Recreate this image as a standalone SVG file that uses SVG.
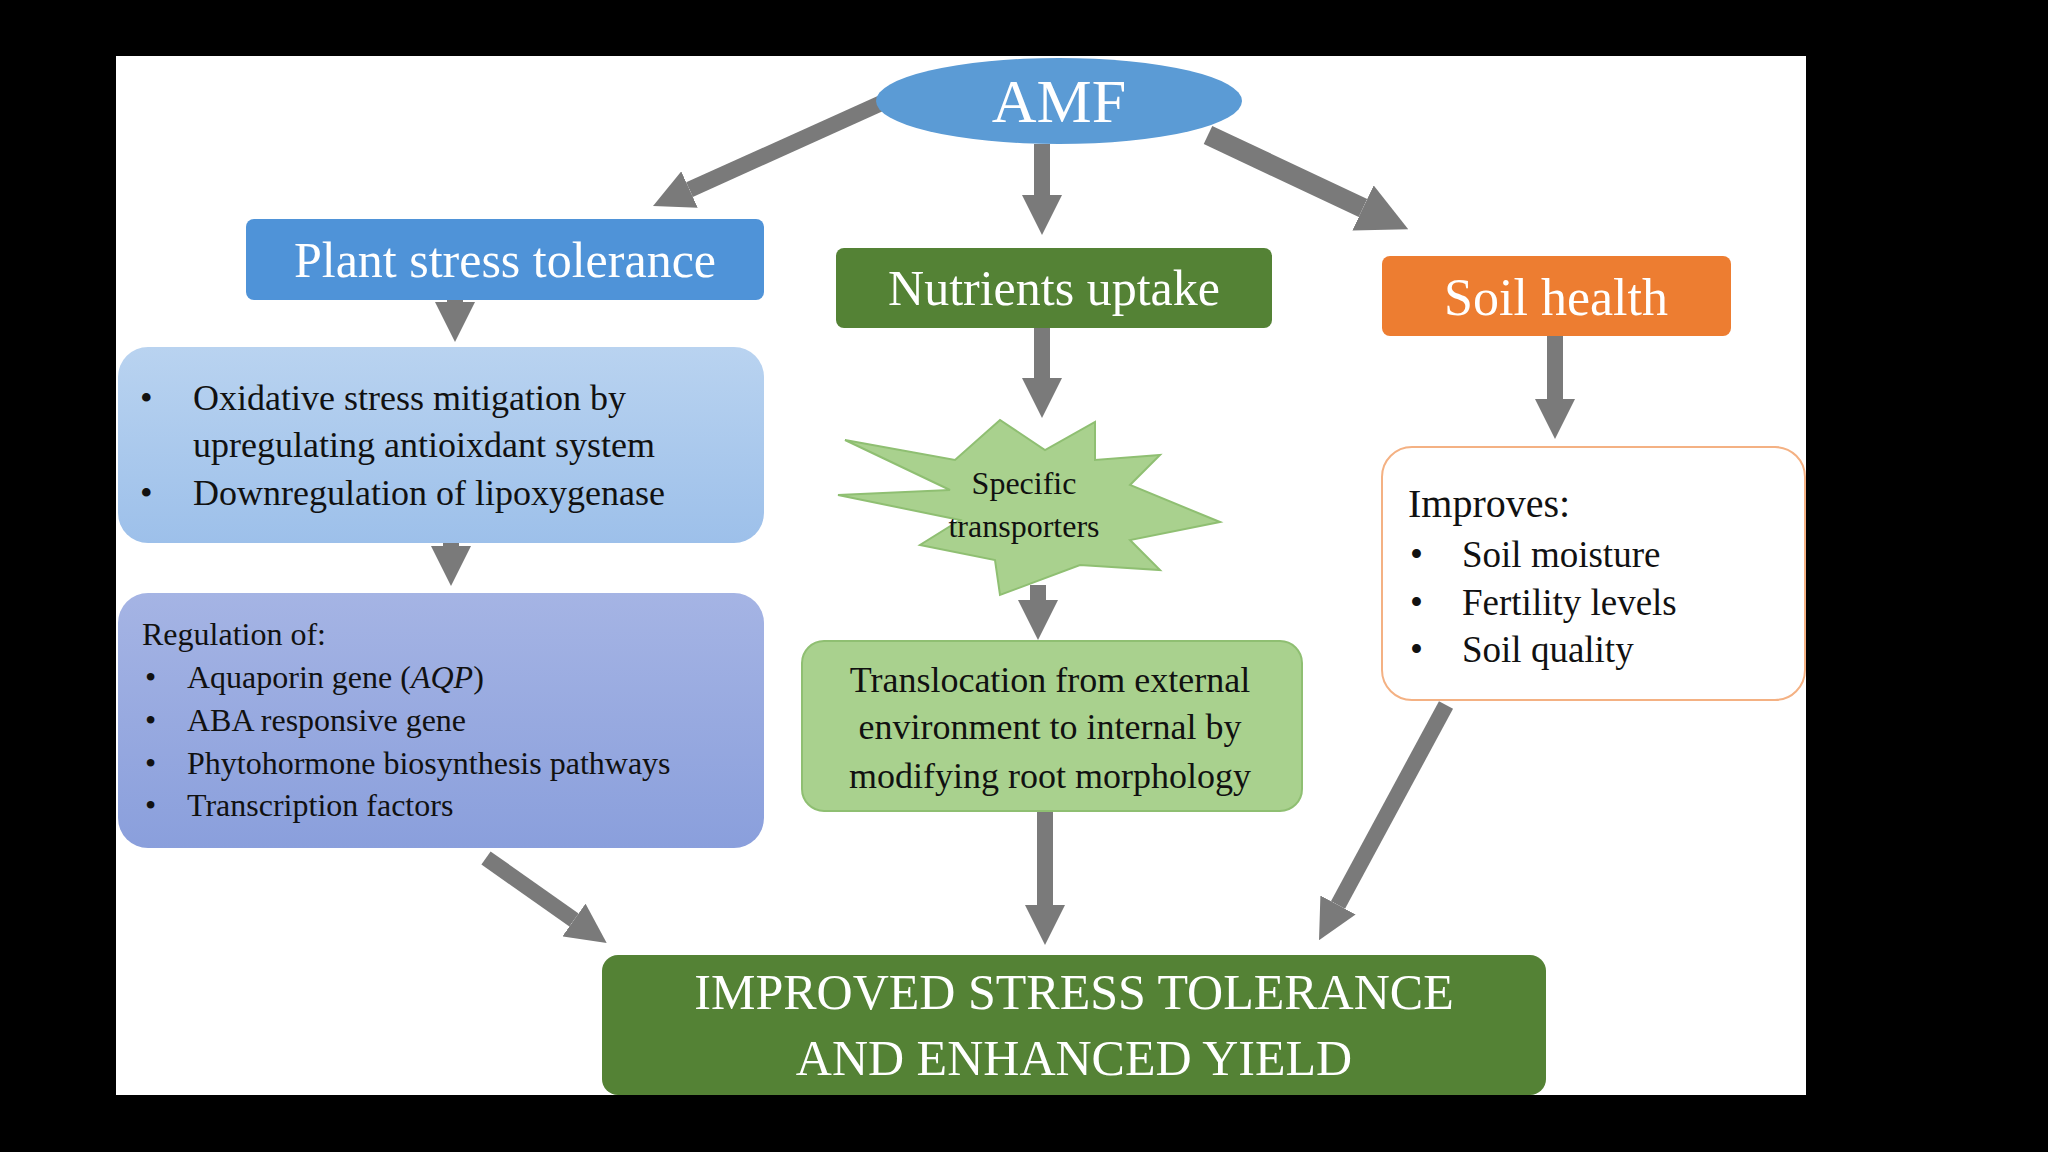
<svg xmlns="http://www.w3.org/2000/svg" width="2048" height="1152" viewBox="0 0 2048 1152">
<defs>
<marker id="ah" markerWidth="2.5" markerHeight="2.5" refX="0" refY="1.25" orient="auto" markerUnits="strokeWidth"><path d="M0,0 L2.5,1.25 L0,2.5 z" fill="#7a7a7a"/></marker>
<linearGradient id="gb" x1="0" y1="0" x2="0" y2="1"><stop offset="0" stop-color="#b9d3f0"/><stop offset="1" stop-color="#9dc0ea"/></linearGradient>
<linearGradient id="gp" x1="0" y1="0" x2="0" y2="1"><stop offset="0" stop-color="#a5b4e4"/><stop offset="1" stop-color="#8a9fdc"/></linearGradient>
</defs>
<style>
text{font-family:"Liberation Serif",serif;}
.w{fill:#fff;text-anchor:middle}
.k{fill:#111}
.ar line{stroke:#7a7a7a;stroke-width:16;marker-end:url(#ah)}
</style>
<rect width="2048" height="1152" fill="#000"/>
<rect x="116" y="56" width="1690" height="1039" fill="#fff"/>
<g class="ar" id="connectors">
<line x1="886" y1="101" x2="689.5" y2="189.6"/>
<line x1="1042" y1="144" x2="1042" y2="195"/>
<line x1="1208" y1="135" x2="1363" y2="208" style="stroke-width:20"/>
<line x1="455" y1="296" x2="455" y2="302"/>
<line x1="451" y1="540" x2="451" y2="546"/>
<line x1="1042" y1="328" x2="1042" y2="378"/>
<line x1="1038" y1="585" x2="1038" y2="600"/>
<line x1="1555" y1="336" x2="1555" y2="399"/>
<line x1="486" y1="858" x2="574" y2="920"/>
<line x1="1045" y1="811" x2="1045" y2="905"/>
<line x1="1446" y1="705" x2="1338" y2="905"/>
</g>
<g id="amf"><ellipse cx="1059" cy="101" rx="183" ry="43" fill="#5b9bd5"/><text class="w" x="1059" y="122" font-size="62">AMF</text></g>
<g id="plant"><rect x="246" y="219" width="518" height="81" rx="8" fill="#4f93d8"/><text class="w" x="505" y="277" font-size="50">Plant stress tolerance</text></g>
<g id="nutrients"><rect x="836" y="248" width="436" height="80" rx="8" fill="#548235"/><text class="w" x="1054" y="305" font-size="50">Nutrients uptake</text></g>
<g id="soil"><rect x="1382" y="256" width="349" height="80" rx="8" fill="#ed7d31"/><text class="w" x="1556" y="315" font-size="52">Soil health</text></g>
<g id="oxid"><rect x="118" y="347" width="646" height="196" rx="30" fill="url(#gb)"/>
<text class="k" font-size="36"><tspan x="140" y="410">•</tspan><tspan x="193" y="410">Oxidative stress mitigation by</tspan><tspan x="193" y="457">upregulating antioixdant system</tspan><tspan x="140" y="505">•</tspan><tspan x="193" y="505">Downregulation of lipoxygenase</tspan></text></g>
<g id="regulation"><rect x="118" y="593" width="646" height="255" rx="30" fill="url(#gp)"/>
<text class="k" font-size="32"><tspan x="142" y="645">Regulation of:</tspan><tspan x="145" y="688">•</tspan><tspan x="187" y="688">Aquaporin gene (<tspan font-style="italic">AQP</tspan>)</tspan><tspan x="145" y="731">•</tspan><tspan x="187" y="731">ABA responsive gene</tspan><tspan x="145" y="774">•</tspan><tspan x="187" y="774">Phytohormone biosynthesis pathways</tspan><tspan x="145" y="816">•</tspan><tspan x="187" y="816">Transcription factors</tspan></text></g>
<g id="star"><polygon points="1220,522 1130,540 1160,570 1080,565 1000,595 995,560 920,545 960,520 838,495 950,490 845,440 955,460 1000,420 1045,450 1095,422 1095,460 1160,455 1130,485" fill="#a9d18e" stroke="#8fbf72" stroke-width="2"/>
<text class="k" text-anchor="middle" font-size="32"><tspan x="1024" y="494">Specific</tspan><tspan x="1024" y="537">transporters</tspan></text></g>
<g id="transloc"><rect x="802" y="641" width="500" height="170" rx="22" fill="#a9d18e" stroke="#8fbf72" stroke-width="2"/>
<text class="k" text-anchor="middle" font-size="36"><tspan x="1050" y="692">Translocation from external</tspan><tspan x="1050" y="739">environment to internal by</tspan><tspan x="1050" y="788">modifying root morphology</tspan></text></g>
<g id="improves"><rect x="1382" y="447" width="423" height="253" rx="30" fill="#fff" stroke="#f4b183" stroke-width="2"/>
<text class="k" font-size="40"><tspan x="1408" y="517">Improves:</tspan></text>
<text class="k" font-size="37"><tspan x="1410" y="567">•</tspan><tspan x="1462" y="567">Soil moisture</tspan><tspan x="1410" y="615">•</tspan><tspan x="1462" y="615">Fertility levels</tspan><tspan x="1410" y="662">•</tspan><tspan x="1462" y="662">Soil quality</tspan></text></g>
<g id="result"><rect x="602" y="955" width="944" height="140" rx="16" fill="#548235"/>
<text class="w" font-size="50"><tspan x="1074" y="1009">IMPROVED STRESS TOLERANCE</tspan><tspan x="1074" y="1075">AND ENHANCED YIELD</tspan></text></g>
</svg>
